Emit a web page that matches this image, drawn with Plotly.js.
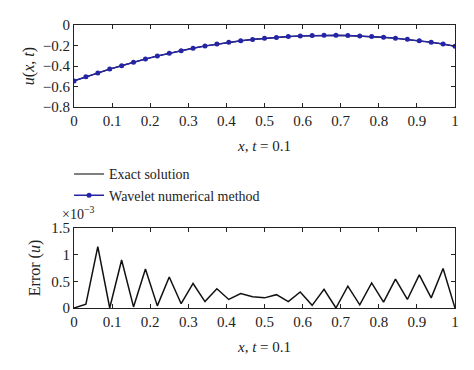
<!DOCTYPE html>
<html><head><meta charset="utf-8">
<script src="https://cdn.plot.ly/plotly-3.0.1.min.js"></script>
<style>html,body{margin:0;padding:0;background:#fff}#c{width:474px;height:370px}</style>
</head><body><div id="c"></div>
<script>
const xs = [0,0.03125,0.0625,0.09375,0.125,0.15625,0.1875,0.21875,0.25,0.28125,0.3125,0.34375,0.375,0.40625,0.4375,0.46875,0.5,0.53125,0.5625,0.59375,0.625,0.65625,0.6875,0.71875,0.75,0.78125,0.8125,0.84375,0.875,0.90625,0.9375,0.96875,1];
const uWavelet = [-0.545,-0.505,-0.467,-0.430,-0.397,-0.362,-0.332,-0.302,-0.275,-0.250,-0.226,-0.205,-0.186,-0.169,-0.154,-0.141,-0.130,-0.121,-0.113,-0.107,-0.103,-0.101,-0.101,-0.103,-0.107,-0.113,-0.120,-0.129,-0.140,-0.153,-0.168,-0.186,-0.207];
const uExact = [-0.545,-0.505,-0.468,-0.430,-0.396,-0.362,-0.331,-0.302,-0.275,-0.250,-0.226,-0.205,-0.186,-0.169,-0.154,-0.141,-0.130,-0.121,-0.113,-0.107,-0.103,-0.101,-0.101,-0.103,-0.107,-0.113,-0.120,-0.129,-0.140,-0.153,-0.168,-0.186,-0.207];
// error in units of 1e-3
const errE3 = [0,0.07,1.15,0.0,0.9,0.02,0.73,0.04,0.58,0.08,0.46,0.12,0.36,0.16,0.27,0.21,0.19,0.25,0.12,0.30,0.05,0.35,0.0,0.41,0.06,0.47,0.11,0.54,0.16,0.62,0.19,0.74,0.0];
const xTicks = [0,0.1,0.2,0.3,0.4,0.5,0.6,0.7,0.8,0.9,1];
const xTickText = ['0','0.1','0.2','0.3','0.4','0.5','0.6','0.7','0.8','0.9','1'];
const uTicks = [0,-0.2,-0.4,-0.6,-0.8];
const uTickText = ['0','\u22120.2','\u22120.4','\u22120.6','\u22120.8'];
const eTicks = [0,0.5,1,1.5];
const eTickText = ['0','0.5','1','1.5'];

const font = {family:'"Liberation Serif", "DejaVu Serif", serif', size:15, color:'#222'};
const axBase = {showline:true, linecolor:'#222', linewidth:1, mirror:'ticks', ticks:'inside', ticklen:4, tickcolor:'#222', showgrid:false, zeroline:false, tickfont:font};

const traces = [
  {x:xs, y:uExact, type:'scatter', mode:'lines', name:'Exact solution', line:{color:'#000', width:1.2}, xaxis:'x', yaxis:'y'},
  {x:xs, y:uWavelet, type:'scatter', mode:'lines+markers', name:'Wavelet numerical method', line:{color:'#2424a4', width:1.5}, marker:{color:'#2424a4', size:5}, xaxis:'x', yaxis:'y'},
  {x:xs, y:errE3, type:'scatter', mode:'lines', showlegend:false, line:{color:'#111', width:1.5}, xaxis:'x2', yaxis:'y2'}
];

const xTitle = {text:'<i>x</i>, <i>t</i> = 0.1', font:font, standoff:12};
const layout = {
  width:474, height:370, margin:{l:74, r:19, t:25, b:62},
  paper_bgcolor:'#fff', plot_bgcolor:'#fff', font:font,
  xaxis: Object.assign({}, axBase, {domain:[0,1], range:[0,1], tickvals:xTicks, ticktext:xTickText, anchor:'y', title:xTitle}),
  yaxis: Object.assign({}, axBase, {domain:[0.71,1], range:[-0.8,0], tickvals:uTicks, ticktext:uTickText, anchor:'x', title:{text:'<i>u</i>(<i>x</i>, <i>t</i>)', font:{family:font.family, size:16, color:'#222'}, standoff:4}}),
  xaxis2: Object.assign({}, axBase, {domain:[0,1], range:[0,1], tickvals:xTicks, ticktext:xTickText, anchor:'y2', title:xTitle}),
  yaxis2: Object.assign({}, axBase, {domain:[0,0.2827], range:[0,1.5], tickvals:eTicks, ticktext:eTickText, anchor:'x2', title:{text:'Error (<i>u</i>)', font:{family:font.family, size:16, color:'#222'}, standoff:6}}),
  showlegend:true,
  legend:{x:-0.013, y:0.435, xanchor:'left', yanchor:'middle', font:{family:font.family, size:14, color:'#222'}, bgcolor:'rgba(0,0,0,0)', tracegroupgap:0, itemwidth:30},
  annotations:[{xref:'paper', yref:'paper', x:-0.037, y:0.298, xanchor:'left', yanchor:'bottom', showarrow:false, text:'\u00d710<sup>\u22123</sup>', font:{family:font.family, size:14, color:'#222'}}]
};
Plotly.newPlot('c', traces, layout, {displayModeBar:false, staticPlot:true});
</script></body></html>
